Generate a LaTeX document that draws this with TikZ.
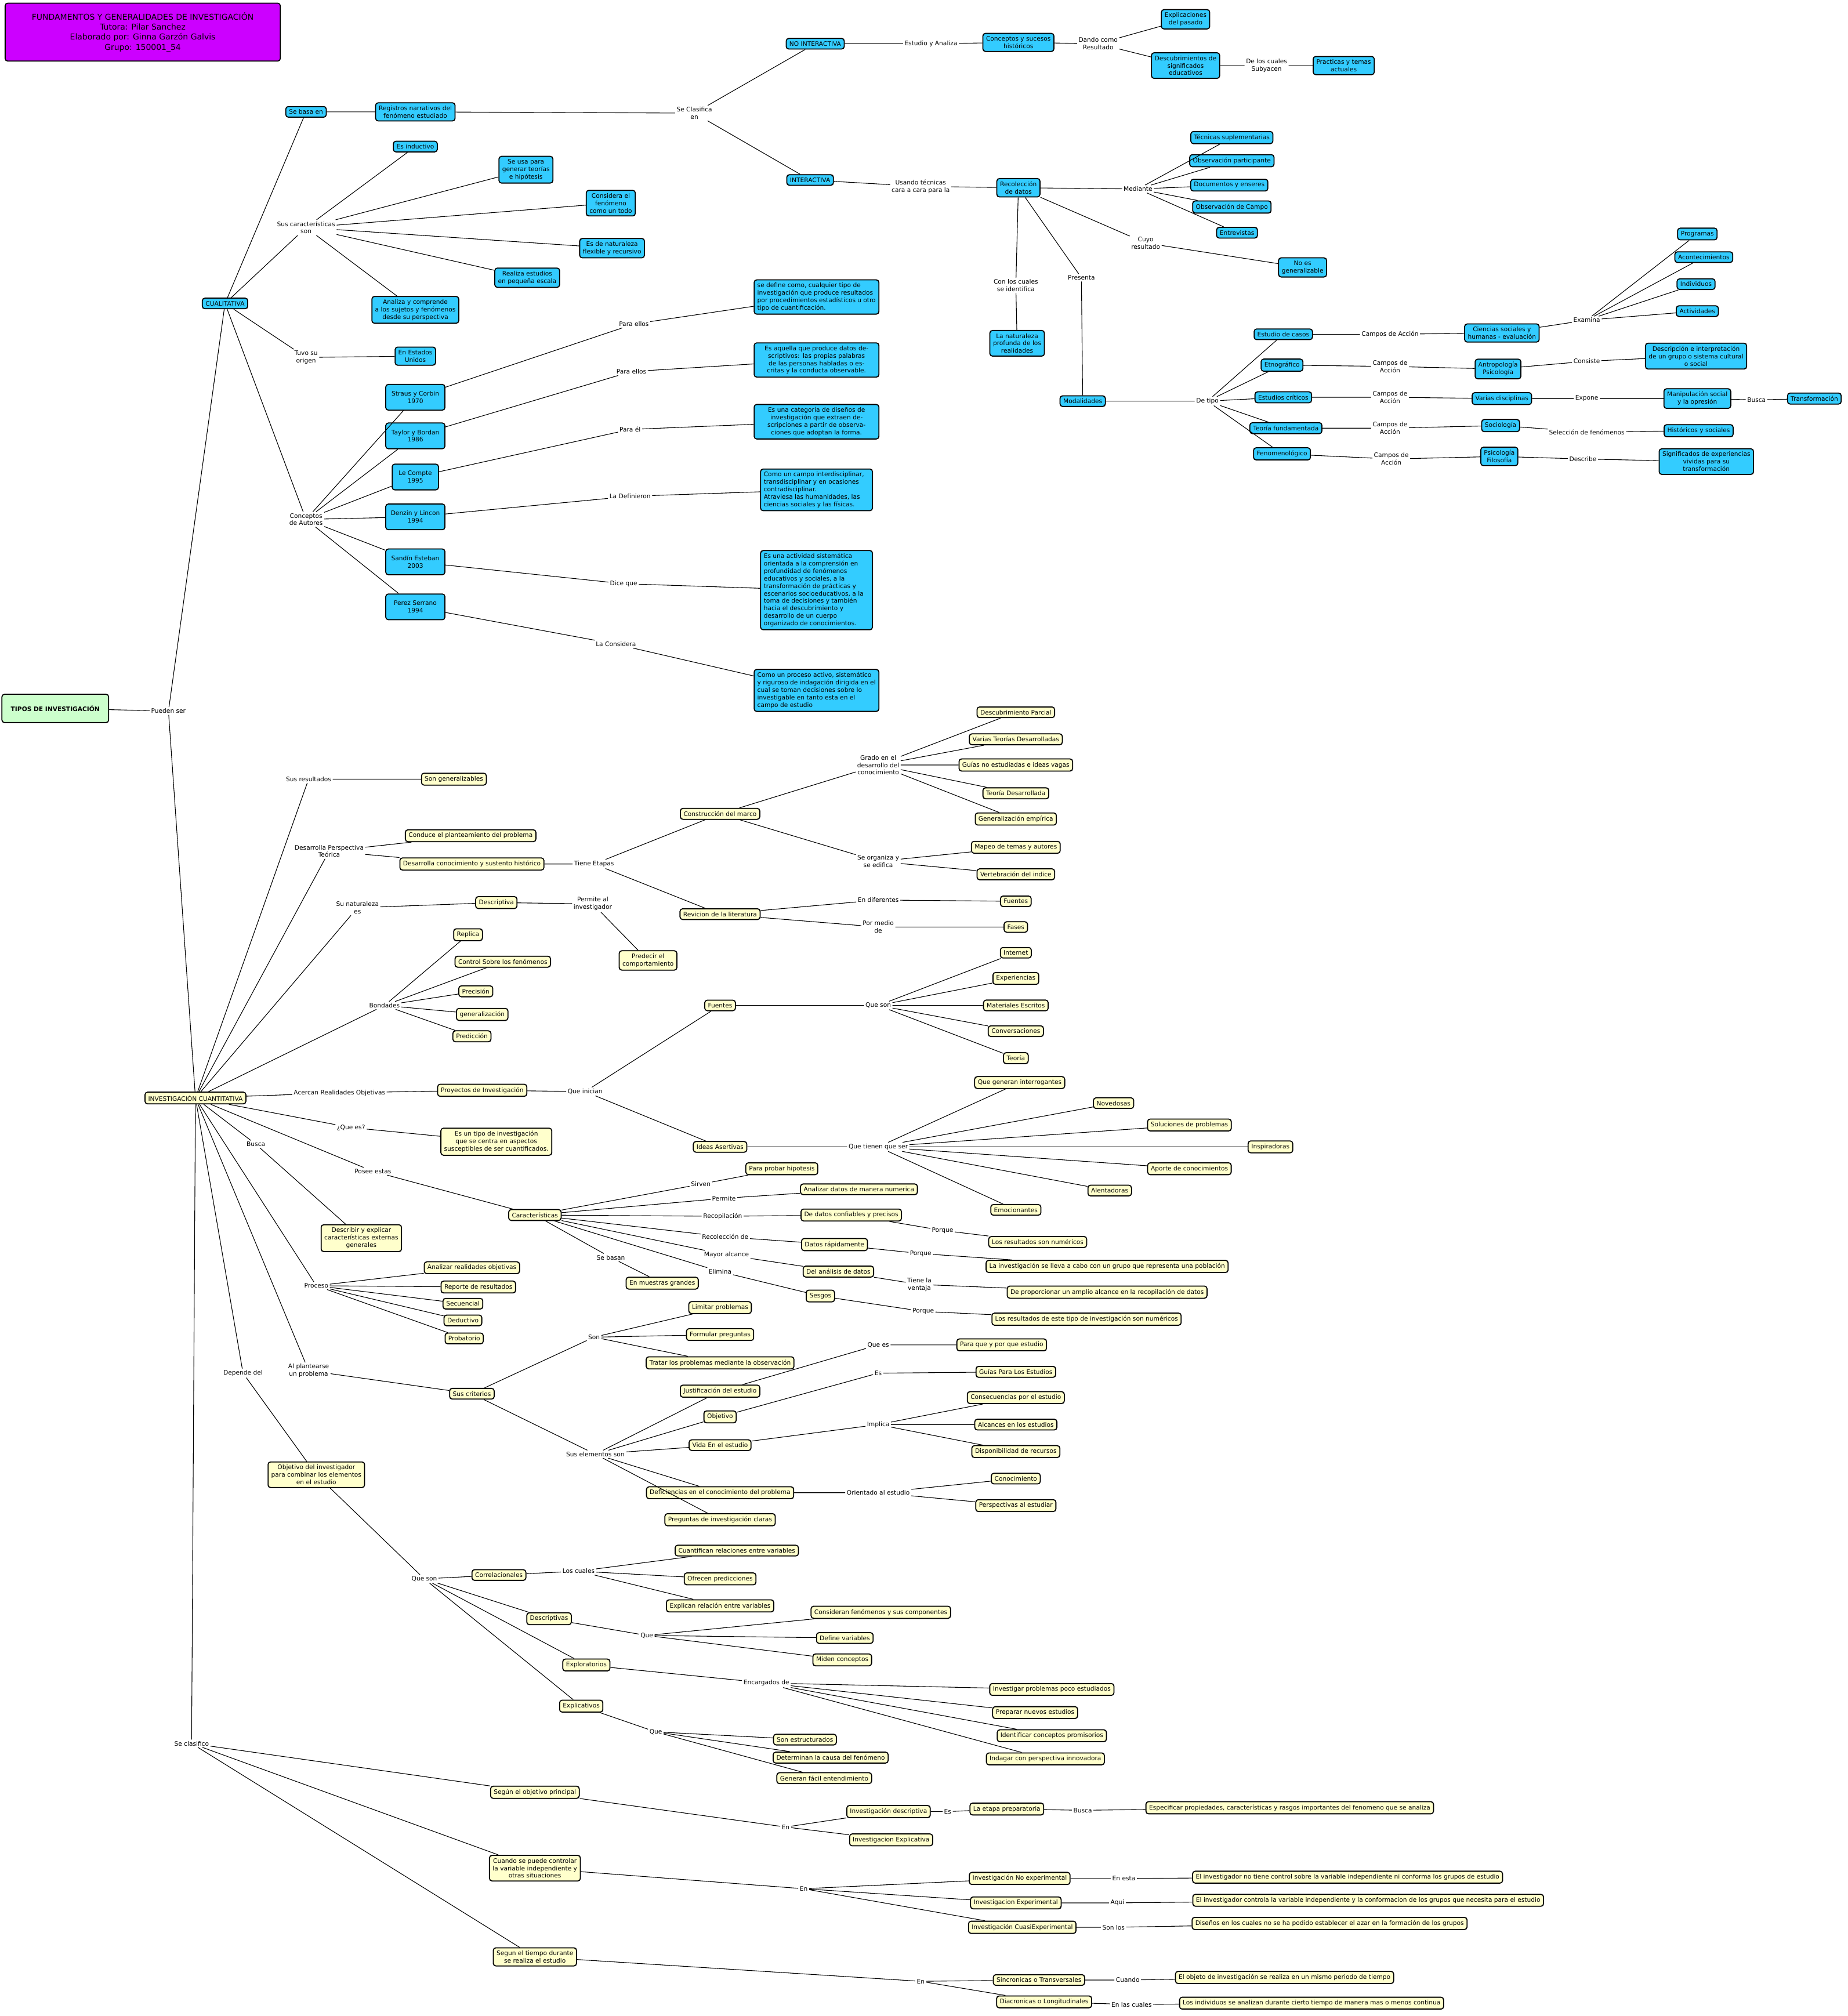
\documentclass[tikz,border=0pt]{standalone}
\usepackage{fontspec}
\setmainfont{DejaVu Sans}
\definecolor{cyb}{HTML}{33CCFF}
\definecolor{yeb}{HTML}{FFFFCC}
\definecolor{grb}{HTML}{CCFFCC}
\definecolor{pub}{HTML}{CC00FF}
\begin{document}
\begin{tikzpicture}[x=1pt,y=-1pt,
 every node/.style={font=\fontsize{4.8}{5.8}\selectfont, align=center},
 cy/.style={draw, fill=cyb, rounded corners=2pt, line width=0.8pt, inner xsep=2.5pt, inner ysep=2.3pt},
 ye/.style={draw, fill=yeb, rounded corners=2pt, line width=0.8pt, inner xsep=2.5pt, inner ysep=2.3pt},
 tb/.style={cy, text width=92pt, align=flush left},
 lb/.style={inner sep=1pt},
 ln/.style={line width=0.5pt}]
\useasboundingbox[fill=white] (0,0) rectangle (1437,1568);
% title and root
\node[draw,fill=pub,rounded corners=2pt,line width=0.8pt,minimum width=214pt,minimum height=45pt,font=\fontsize{6.3}{7.8}\selectfont] (title) at (111,25) {FUNDAMENTOS Y GENERALIDADES DE INVESTIGACIÓN\\Tutora: Pilar Sanchez\\Elaborado por: Ginna Garzón Galvis\\Grupo: 150001\_54};
\node[draw,fill=grb,rounded corners=2pt,line width=0.8pt,minimum width=83pt,minimum height=22pt,font=\bfseries\fontsize{4.8}{6}\selectfont] (root) at (43,551) {TIPOS DE INVESTIGACIÓN};
\node[lb] (pued) at (131,553) {Pueden ser};
\node[cy] (cual) at (175,236) {CUALITATIVA};
\node[ye] (cuan) at (152,854) {INVESTIGACIÓN CUANTITATIVA};
\draw[ln] (root)--(pued) (pued)--(cual) (pued)--(cuan);
% ===== qualitative
\node[cy] (sebasa) at (238,87) {Se basa en};
\node[cy] (regis) at (323,87) {Registros narrativos del\\fenómeno estudiado};
\node[lb] (seclas) at (540,88) {Se Clasifica\\en};
\node[cy] (noint) at (634,34) {NO INTERACTIVA};
\node[lb] (estan) at (724,34) {Estudio y Analiza};
\node[cy] (concep) at (792,33) {Conceptos y sucesos\\históricos};
\node[lb] (dando) at (854,34) {Dando como\\Resultado};
\node[cy] (expl) at (922,15) {Explicaciones\\del pasado};
\node[cy] (descub) at (922,51) {Descubrimientos de\\significados\\educativos};
\node[lb] (subya) at (985,51) {De los cuales\\Subyacen};
\node[cy] (pract) at (1045,51) {Practicas y temas\\actuales};
\node[cy] (inter) at (630,140) {INTERACTIVA};
\node[lb] (usando) at (716,145) {Usando técnicas\\cara a cara para la};
\node[cy] (recol) at (792,146) {Recolección\\de datos};
\node[lb] (mediante) at (885,147) {Mediante};
\node[cy] (t1) at (958,107) {Técnicas suplementarias};
\node[cy] (t2) at (958,125) {Observación participante};
\node[cy] (t3) at (956,144) {Documentos y enseres};
\node[cy] (t4) at (958,161) {Observación de Campo};
\node[cy] (t5) at (962,181) {Entrevistas};
\node[lb] (cuyo) at (891,189) {Cuyo\\resultado};
\node[cy] (noes) at (1013,208) {No es\\generalizable};
\node[lb] (conlos) at (790,222) {Con los cuales\\se identifica};
\node[cy] (natur) at (791,267) {La naturaleza\\profunda de los\\realidades};
\node[lb] (presenta) at (841,216) {Presenta};
\node[cy] (modal) at (842,312) {Modalidades};
\node[lb] (detipo) at (939,312) {De tipo};
\node[cy] (m1) at (998,260) {Estudio de casos};
\node[cy] (m2) at (997,284) {Etnográfico};
\node[cy] (m3) at (998,309) {Estudios críticos};
\node[cy] (m4) at (1000,333) {Teoría fundamentada};
\node[cy] (m5) at (997,353) {Fenomenológico};
\node[lb] (ca1) at (1081,260) {Campos de Acción};
\node[lb] (ca2) at (1081,285) {Campos de\\Acción};
\node[lb] (ca3) at (1081,309) {Campos de\\Acción};
\node[lb] (ca4) at (1081,333) {Campos de\\Acción};
\node[lb] (ca5) at (1082,357) {Campos de\\Acción};
\node[cy] (cs) at (1168,259) {Ciencias sociales y\\humanas - evaluación};
\node[lb] (examina) at (1234,249) {Examina};
\node[cy] (prog) at (1320,182) {Programas};
\node[cy] (acon) at (1325,200) {Acontecimientos};
\node[cy] (indiv) at (1319,221) {Individuos};
\node[cy] (activ) at (1320,242) {Actividades};
\node[cy] (antro) at (1165,287) {Antropología\\Psicología};
\node[lb] (consiste) at (1234,281) {Consiste};
\node[cy] (descint) at (1319,277) {Descripción e interpretación\\de un grupo o sistema cultural\\o social};
\node[cy] (varias) at (1168,310) {Varias disciplinas};
\node[lb] (expone) at (1234,310) {Expone};
\node[cy] (manip) at (1320,310) {Manipulación social\\y la opresión};
\node[lb] (busca0) at (1366,311) {Busca};
\node[cy] (transf) at (1411,310) {Transformación};
\node[cy] (socio) at (1167,331) {Sociología};
\node[lb] (selec) at (1234,336) {Selección de fenómenos};
\node[cy] (hist) at (1321,335) {Históricos y sociales};
\node[cy] (psico) at (1166,355) {Psicología\\Filosofía};
\node[lb] (describe) at (1231,357) {Describe};
\node[cy] (signif) at (1327,359) {Significados de experiencias\\vividas para su\\transformación};
\draw[ln] (cual)--(sebasa)--(regis)--(seclas) (seclas)--(noint) (seclas)--(inter)
 (noint)--(estan)--(concep)--(dando)--(expl) (dando)--(descub)--(subya)--(pract)
 (inter)--(usando)--(recol)--(mediante)
 (mediante)--(t1) (mediante)--(t2) (mediante)--(t3) (mediante)--(t4) (mediante)--(t5)
 (recol)--(cuyo)--(noes) (recol)--(conlos)--(natur) (recol)--(presenta)--(modal)--(detipo)
 (detipo)--(m1) (detipo)--(m2) (detipo)--(m3) (detipo)--(m4) (detipo)--(m5)
 (m1)--(ca1)--(cs)--(examina) (examina)--(prog) (examina)--(acon) (examina)--(indiv) (examina)--(activ)
 (m2)--(ca2)--(antro)--(consiste)--(descint)
 (m3)--(ca3)--(varias)--(expone)--(manip)--(busca0)--(transf)
 (m4)--(ca4)--(socio)--(selec)--(hist)
 (m5)--(ca5)--(psico)--(describe)--(signif);
\node[lb] (suscar) at (238,177) {Sus características\\son};
\node[cy] (c1) at (323,114) {Es inductivo};
\node[cy] (c2) at (409,132) {Se usa para\\generar teorías\\e hipótesis};
\node[cy] (c3) at (475,158) {Considera el\\fenómeno\\como un todo};
\node[cy] (c4) at (476,193) {Es de naturaleza\\flexible y recursivo};
\node[cy] (c5) at (410,216) {Realiza estudios\\en pequeña escala};
\node[cy] (c6) at (323,241) {Analiza y comprende\\a los sujetos y fenómenos\\desde su perspectiva};
\node[lb] (tuvo) at (238,278) {Tuvo su\\origen};
\node[cy] (eeuu) at (323,277) {En Estados\\Unidos};
\node[lb] (concaut) at (238,404) {Conceptos\\de Autores};
\node[cy,minimum width=46pt,minimum height=20pt] (a1) at (323,309) {Straus y Corbin\\1970};
\node[cy,minimum width=46pt,minimum height=20pt] (a2) at (323,339) {Taylor y Bordan\\1986};
\node[cy,minimum width=36pt,minimum height=20pt] (a3) at (323,371) {Le Compte\\1995};
\node[cy,minimum width=46pt,minimum height=20pt] (a4) at (323,402) {Denzin y Lincon\\1994};
\node[cy,minimum width=46pt,minimum height=20pt] (a5) at (323,437) {Sandín Esteban\\2003};
\node[cy,minimum width=46pt,minimum height=20pt] (a6) at (323,472) {Perez Serrano\\1994};
\node[lb] (p1) at (493,252) {Para ellos};
\node[lb] (p2) at (491,289) {Para ellos};
\node[lb] (p3) at (490,334) {Para él};
\node[lb] (p4) at (490,386) {La Definieron};
\node[lb] (p5) at (485,454) {Dice que};
\node[lb] (p6) at (479,501) {La Considera};
\node[tb] (d1) at (635,231) {se define como, cualquier tipo de investigación que produce resultados por procedimientos estadísticos u otro tipo de cuantificación.};
\node[tb,align=center] (d2) at (635,280) {Es aquella que produce datos descriptivos: las propias palabras de las personas habladas o escritas y la conducta observable.};
\node[tb,align=center] (d3) at (635,328) {Es una categoría de diseños de investigación que extraen descripciones a partir de observaciones que adoptan la forma.};
\node[tb,text width=82pt] (d4) at (635,381) {Como un campo interdisciplinar, transdisciplinar y en ocasiones contradisciplinar.\\Atraviesa las humanidades, las ciencias sociales y las físicas.};
\node[tb,text width=82pt] (d5) at (635,459) {Es una actividad sistemática orientada a la comprensión en profundidad de fenómenos educativos y sociales, a la transformación de prácticas y escenarios socioeducativos, a la toma de decisiones y también hacia el descubrimiento y desarrollo de un cuerpo organizado de conocimientos.};
\node[tb] (d6) at (635,537) {Como un proceso activo, sistemático y riguroso de indagación dirigida en el cual se toman decisiones sobre lo investigable en tanto esta en el campo de estudio};
\draw[ln] (cual)--(suscar) (suscar)--(c1) (suscar)--(c2) (suscar)--(c3) (suscar)--(c4) (suscar)--(c5) (suscar)--(c6)
 (cual)--(tuvo)--(eeuu) (cual)--(concaut)
 (concaut)--(a1) (concaut)--(a2) (concaut)--(a3) (concaut)--(a4) (concaut)--(a5) (concaut)--(a6)
 (a1)--(p1)--(d1) (a2)--(p2)--(d2) (a3)--(p3)--(d3) (a4)--(p4)--(d4) (a5)--(p5)--(d5) (a6)--(p6)--(d6);
% ===== quantitative
\node[lb] (susres) at (240,606) {Sus resultados};
\node[ye] (songen) at (353,606) {Son generalizables};
\node[lb] (desarr) at (256,662) {Desarrolla Perspectiva\\Teórica};
\node[ye] (cond) at (366,650) {Conduce el planteamiento del problema};
\node[ye] (desc2) at (367,672) {Desarrolla conocimiento y sustento histórico};
\node[lb] (tiene) at (462,672) {Tiene Etapas};
\node[ye] (constr) at (560,633) {Construcción del marco};
\node[ye] (revic) at (560,711) {Revicion de la literatura};
\node[lb] (grado) at (683,595) {Grado en el\\desarrollo del\\conocimiento};
\node[ye] (g1) at (790,554) {Descubrimiento Parcial};
\node[ye] (g2) at (790,575) {Varias Teorías Desarrolladas};
\node[ye] (g3) at (790,595) {Guías no estudiadas e ideas vagas};
\node[ye] (g4) at (790,617) {Teoría Desarrollada};
\node[ye] (g5) at (790,637) {Generalización empírica};
\node[lb] (seorg) at (683,670) {Se organiza y\\se edifica};
\node[ye] (o1) at (790,659) {Mapeo de temas y autores};
\node[ye] (o2) at (790,680) {Vertebración del indice};
\node[lb] (endif) at (683,700) {En diferentes};
\node[ye] (fue1) at (790,701) {Fuentes};
\node[lb] (pormed) at (683,721) {Por medio\\de};
\node[ye] (fases) at (790,721) {Fases};
\draw[ln] (cuan)--(susres)--(songen) (cuan)--(desarr) (desarr)--(cond) (desarr)--(desc2)--(tiene)
 (tiene)--(constr) (tiene)--(revic) (constr)--(grado) (grado)--(g1) (grado)--(g2) (grado)--(g3) (grado)--(g4) (grado)--(g5)
 (constr)--(seorg) (seorg)--(o1) (seorg)--(o2) (revic)--(endif)--(fue1) (revic)--(pormed)--(fases);
\node[lb] (sunat) at (278,706) {Su naturaleza\\es};
\node[ye] (descr) at (386,702) {Descriptiva};
\node[lb] (permite) at (461,703) {Permite al\\investigador};
\node[ye] (predec) at (504,747) {Predecir el\\comportamiento};
\node[lb] (bond) at (299,782) {Bondades};
\node[ye] (b1) at (364,727) {Replica};
\node[ye] (b2) at (391,748) {Control Sobre los fenómenos};
\node[ye] (b3) at (370,771) {Precisión};
\node[ye] (b4) at (375,789) {generalización};
\node[ye] (b5) at (367,806) {Predicción};
\draw[ln] (cuan)--(sunat)--(descr)--(permite)--(predec) (cuan)--(bond)
 (bond)--(b1) (bond)--(b2) (bond)--(b3) (bond)--(b4) (bond)--(b5);
\node[lb] (acercan) at (264,850) {Acercan Realidades Objetivas};
\node[ye] (proy) at (375,848) {Proyectos de Investigación};
\node[lb] (queini) at (455,849) {Que inician};
\node[ye] (fuen) at (560,782) {Fuentes};
\node[lb] (queson) at (683,782) {Que son};
\node[ye] (s1) at (790,741) {Internet};
\node[ye] (s2) at (790,761) {Experiencias};
\node[ye] (s3) at (790,782) {Materiales Escritos};
\node[ye] (s4) at (790,802) {Conversaciones};
\node[ye] (s5) at (790,823) {Teoría};
\node[ye] (ideas) at (560,892) {Ideas Asertivas};
\node[lb] (quetie) at (683,892) {Que tienen que ser};
\node[ye] (i1) at (793,842) {Que generan interrogantes};
\node[ye] (i2) at (866,858) {Novedosas};
\node[ye] (i3) at (925,875) {Soluciones de problemas};
\node[ye] (i4) at (988,892) {Inspiradoras};
\node[ye] (i5) at (925,909) {Aporte de conocimientos};
\node[ye] (i6) at (863,926) {Alentadoras};
\node[ye] (i7) at (790,941) {Emocionantes};
\draw[ln] (cuan)--(acercan)--(proy)--(queini) (queini)--(fuen) (queini)--(ideas)
 (fuen)--(queson) (queson)--(s1) (queson)--(s2) (queson)--(s3) (queson)--(s4) (queson)--(s5)
 (ideas)--(quetie) (quetie)--(i1) (quetie)--(i2) (quetie)--(i3) (quetie)--(i4) (quetie)--(i5) (quetie)--(i6) (quetie)--(i7);
\node[lb] (queesq) at (273,877) {¿Que es?};
\node[ye] (esun) at (386,888) {Es un tipo de investigación\\que se centra en aspectos\\susceptibles de ser cuantificados.};
\node[lb] (posee) at (290,911) {Posee estas};
\node[ye] (carac) at (416,945) {Características};
\node[lb] (sirven) at (545,921) {Sirven};
\node[ye] (pph) at (608,909) {Para probar hipotesis};
\node[lb] (permite2) at (563,932) {Permite};
\node[ye] (anal) at (668,925) {Analizar datos de manera numerica};
\node[lb] (recop) at (562,946) {Recopilación};
\node[ye] (dcp) at (662,945) {De datos confiables y precisos};
\node[lb] (recole) at (564,962) {Recolección de};
\node[ye] (drap) at (649,968) {Datos rápidamente};
\node[lb] (mayor) at (565,976) {Mayor alcance};
\node[ye] (dan) at (652,989) {Del análisis de datos};
\node[lb] (elimina) at (560,989) {Elimina};
\node[ye] (sesgos) at (638,1008) {Sesgos};
\node[lb] (sebasan) at (475,978) {Se basan};
\node[ye] (muestras) at (515,998) {En muestras grandes};
\node[lb] (porq1) at (733,957) {Porque};
\node[ye] (resnum) at (807,966) {Los resultados son numéricos};
\node[lb] (porq2) at (716,975) {Porque};
\node[ye] (lainv) at (861,985) {La investigación se lleva a cabo con un grupo que representa una población};
\node[lb] (tiene2) at (715,999) {Tiene la\\ventaja};
\node[ye] (deprop) at (861,1005) {De proporcionar un amplio alcance en la recopilación de datos};
\node[lb] (porq3) at (718,1020) {Porque};
\node[ye] (losres) at (845,1026) {Los resultados de este tipo de investigación son numéricos};
\draw[ln] (cuan)--(queesq)--(esun) (cuan)--(posee)--(carac)
 (carac)--(sirven)--(pph) (carac)--(permite2)--(anal) (carac)--(recop)--(dcp) (carac)--(recole)--(drap)
 (carac)--(mayor)--(dan) (carac)--(elimina)--(sesgos) (carac)--(sebasan)--(muestras)
 (dcp)--(porq1)--(resnum) (drap)--(porq2)--(lainv) (dan)--(tiene2)--(deprop) (sesgos)--(porq3)--(losres);
\node[lb] (busca1) at (199,890) {Busca};
\node[ye] (describ) at (281,963) {Describir y explicar\\características externas\\generales};
\node[lb] (proceso) at (246,1000) {Proceso};
\node[ye] (r1) at (367,986) {Analizar realidades objetivas};
\node[ye] (r2) at (372,1001) {Reporte de resultados};
\node[ye] (r3) at (360,1014) {Secuencial};
\node[ye] (r4) at (360,1027) {Deductivo};
\node[ye] (r5) at (361,1041) {Probatorio};
\draw[ln] (cuan)--(busca1)--(describ) (cuan)--(proceso)
 (proceso)--(r1) (proceso)--(r2) (proceso)--(r3) (proceso)--(r4) (proceso)--(r5);
\node[lb] (alplan) at (240,1066) {Al plantearse\\un problema};
\node[ye] (criter) at (367,1084) {Sus criterios};
\node[lb] (son) at (462,1040) {Son};
\node[ye] (l1) at (560,1017) {Limitar problemas};
\node[ye] (l2) at (560,1038) {Formular preguntas};
\node[ye] (l3) at (560,1060) {Tratar los problemas mediante la observación};
\node[lb] (elem) at (463,1131) {Sus elementos son};
\node[ye] (e1) at (560,1082) {Justificación del estudio};
\node[ye] (e2) at (560,1102) {Objetivo};
\node[ye] (e3) at (560,1124) {Vida En el estudio};
\node[ye] (e4) at (560,1161) {Deficiencias en el conocimiento del problema};
\node[ye] (e5) at (560,1182) {Preguntas de investigación claras};
\node[lb] (quees) at (683,1046) {Que es};
\node[ye] (paraq) at (779,1046) {Para que y por que estudio};
\node[lb] (es1) at (683,1068) {Es};
\node[ye] (guias) at (790,1067) {Guías Para Los Estudios};
\node[lb] (implica) at (683,1108) {Implica};
\node[ye] (im1) at (790,1087) {Consecuencias por el estudio};
\node[ye] (im2) at (790,1108) {Alcances en los estudios};
\node[ye] (im3) at (790,1129) {Disponibilidad de recursos};
\node[lb] (orient) at (683,1161) {Orientado al estudio};
\node[ye] (or1) at (790,1150) {Conocimiento};
\node[ye] (or2) at (790,1171) {Perspectivas al estudiar};
\draw[ln] (cuan)--(alplan)--(criter) (criter)--(son) (son)--(l1) (son)--(l2) (son)--(l3)
 (criter)--(elem) (elem)--(e1) (elem)--(e2) (elem)--(e3) (elem)--(e4) (elem)--(e5)
 (e1)--(quees)--(paraq) (e2)--(es1)--(guias) (e3)--(implica) (implica)--(im1) (implica)--(im2) (implica)--(im3)
 (e4)--(orient) (orient)--(or1) (orient)--(or2);
\node[lb] (depende) at (189,1068) {Depende del};
\node[ye] (objinv) at (246,1147) {Objetivo del investigador\\para combinar los elementos\\en el estudio};
\node[lb] (queson2) at (330,1228) {Que son};
\node[ye] (corr) at (388,1225) {Correlacionales};
\node[lb] (loscu) at (450,1222) {Los cuales};
\node[ye] (lc1) at (573,1206) {Cuantifican relaciones entre variables};
\node[ye] (lc2) at (560,1228) {Ofrecen predicciones};
\node[ye] (lc3) at (560,1249) {Explican relación entre variables};
\node[ye] (descs) at (427,1259) {Descriptivas};
\node[lb] (que1) at (503,1272) {Que};
\node[ye] (q1) at (685,1254) {Consideran fenómenos y sus componentes};
\node[ye] (q2) at (657,1274) {Define variables};
\node[ye] (q3) at (655,1291) {Miden conceptos};
\node[ye] (explo) at (456,1295) {Exploratorios};
\node[lb] (encarg) at (596,1309) {Encargados de};
\node[ye] (en1) at (818,1314) {Investigar problemas poco estudiados};
\node[ye] (en2) at (805,1332) {Preparar nuevos estudios};
\node[ye] (en3) at (818,1350) {Identificar conceptos promisorios};
\node[ye] (en4) at (813,1368) {Indagar con perspectiva innovadora};
\node[ye] (explic) at (452,1327) {Explicativos};
\node[lb] (que2) at (510,1347) {Que};
\node[ye] (qq1) at (626,1353) {Son estructurados};
\node[ye] (qq2) at (646,1367) {Determinan la causa del fenómeno};
\node[ye] (qq3) at (641,1383) {Generan fácil entendimiento};
\draw[ln] (cuan)--(depende)--(objinv)--(queson2)
 (queson2)--(corr) (queson2)--(descs) (queson2)--(explo) (queson2)--(explic)
 (corr)--(loscu) (loscu)--(lc1) (loscu)--(lc2) (loscu)--(lc3)
 (descs)--(que1) (que1)--(q1) (que1)--(q2) (que1)--(q3)
 (explo)--(encarg) (encarg)--(en1) (encarg)--(en2) (encarg)--(en3) (encarg)--(en4)
 (explic)--(que2) (que2)--(qq1) (que2)--(qq2) (que2)--(qq3);
\node[lb] (seclasif) at (149,1356) {Se clasifico};
\node[ye] (seg1) at (416,1394) {Según el objetivo principal};
\node[ye] (seg2) at (416,1453) {Cuando se puede controlar\\la variable independiente y\\otras situaciones};
\node[ye] (seg3) at (416,1522) {Segun el tiempo durante\\se realiza el estudio};
\node[lb] (en1l) at (611,1421) {En};
\node[ye] (idesc) at (691,1409) {Investigación descriptiva};
\node[ye] (iexpl) at (693,1431) {Investigacion Explicativa};
\node[lb] (es2) at (737,1409) {Es};
\node[ye] (etapa) at (783,1407) {La etapa preparatoria};
\node[lb] (busca2) at (842,1408) {Busca};
\node[ye] (espec) at (1003,1406) {Especificar propiedades, características y rasgos importantes del fenomeno que se analiza};
\node[lb] (en2l) at (625,1469) {En};
\node[ye] (nexp) at (793,1461) {Investigación No experimental};
\node[ye] (iexp) at (790,1480) {Investigacion Experimental};
\node[ye] (cuasi) at (795,1499) {Investigación CuasiExperimental};
\node[lb] (enesta) at (874,1461) {En esta};
\node[ye] (ta) at (1048,1460) {El investigador no tiene control sobre la variable independiente ni conforma los grupos de estudio};
\node[lb] (aqui) at (869,1480) {Aqui};
\node[ye] (tb) at (1064,1478) {El investigador controla la variable independiente y la conformacion de los grupos que necesita para el estudio};
\node[lb] (sonlos) at (866,1499) {Son los};
\node[ye] (tc) at (1034,1496) {Diseños en los cuales no se ha podido establecer el azar en la formación de los grupos};
\node[lb] (en3l) at (716,1541) {En};
\node[ye] (sinc) at (808,1540) {Sincronicas o Transversales};
\node[ye] (diac) at (812,1557) {Diacronicas o Longitudinales};
\node[lb] (cuando) at (877,1540) {Cuando};
\node[ye] (td) at (999,1538) {El objeto de investigación se realiza en un mismo periodo de tiempo};
\node[lb] (enlas) at (880,1559) {En las cuales};
\node[ye] (te) at (1020,1558) {Los individuos se analizan durante cierto tiempo de manera mas o menos continua};
\draw[ln] (cuan)--(seclasif) (seclasif)--(seg1) (seclasif)--(seg2) (seclasif)--(seg3)
 (seg1)--(en1l) (en1l)--(idesc) (en1l)--(iexpl) (idesc)--(es2)--(etapa)--(busca2)--(espec)
 (seg2)--(en2l) (en2l)--(nexp) (en2l)--(iexp) (en2l)--(cuasi)
 (nexp)--(enesta)--(ta) (iexp)--(aqui)--(tb) (cuasi)--(sonlos)--(tc)
 (seg3)--(en3l) (en3l)--(sinc) (en3l)--(diac) (sinc)--(cuando)--(td) (diac)--(enlas)--(te);
\end{tikzpicture}
\end{document}
